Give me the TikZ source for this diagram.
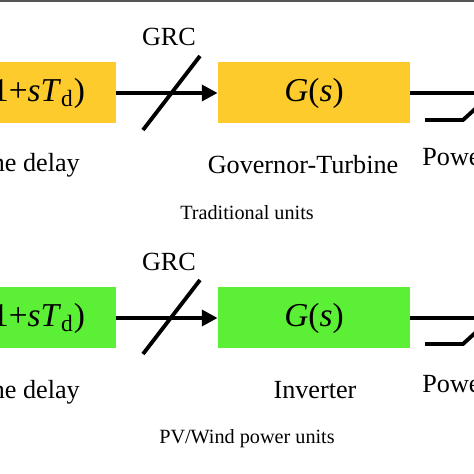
\documentclass[tikz,border=0pt]{standalone}
\usepackage{fontspec}
\setmainfont{Liberation Serif}
\usetikzlibrary{arrows.meta, positioning}
\definecolor{unitgold}{HTML}{FDCB2C}
\definecolor{unitgreen}{HTML}{5BEF35}
\definecolor{topband}{HTML}{555555}

\tikzset{
  blockbox/.style={minimum width=3.84cm, minimum height=1.22cm, inner sep=0pt,
    font=\fontsize{19}{22}\selectfont},
  lbl/.style={font=\fontsize{14.9}{17}\selectfont, inner sep=0pt},
  grouplbl/.style={font=\fontsize{11.5}{13}\selectfont, inner sep=0pt},
  sig/.style={line width=2.2pt},
}

\begin{document}
\begin{tikzpicture}[>={Triangle[length=9pt, width=9pt]}]
  \useasboundingbox (0,0) rectangle (9.48,9.48);
  \fill[topband] (0,9.44) rectangle (9.48,9.48);

  % Traditional units
  \node[blockbox, fill=unitgold] (delayA) at (0.40,7.62) {1/(1+\textit{sT}\textsubscript{d})};
  \node[blockbox, fill=unitgold] (govA) at (6.28,7.62) {\textit{G}(\textit{s})};
  \draw[sig, ->] (delayA.east) -- (govA.west);
  \draw[sig] (2.86,6.88) -- (4.00,8.36);
  \node[lbl] (grcA) at (3.38,8.74) {GRC};
  \node[lbl] (tdA) at (0.42,6.18) {Time delay};
  \node[lbl] (gtA) at (6.06,6.18) {Governor-Turbine};
  \node[grouplbl] (tradA) at (4.94,5.22) {Traditional units};
  \coordinate (outA) at (9.60,7.62);
  \draw[sig] (govA.east) -- (outA);
  \draw[sig] (8.50,7.08) -- (9.26,7.08) -- (9.60,7.39);
  \node[lbl, anchor=west] (limA) at (8.44,6.34) {Power limit};

  % PV/Wind power units
  \node[blockbox, fill=unitgreen] (delayB) at (0.40,3.12) {1/(1+\textit{sT}\textsubscript{d})};
  \node[blockbox, fill=unitgreen] (invB) at (6.28,3.12) {\textit{G}(\textit{s})};
  \draw[sig, ->] (delayB.east) -- (invB.west);
  \draw[sig] (2.86,2.40) -- (4.00,3.88);
  \node[lbl] (grcB) at (3.38,4.24) {GRC};
  \node[lbl] (tdB) at (0.42,1.64) {Time delay};
  \node[lbl] (invlB) at (6.30,1.68) {Inverter};
  \node[grouplbl] (pvB) at (4.94,0.70) {PV/Wind power units};
  \coordinate (outB) at (9.60,3.12);
  \draw[sig] (invB.east) -- (outB);
  \draw[sig] (8.50,2.60) -- (9.26,2.60) -- (9.60,2.91);
  \node[lbl, anchor=west] (limB) at (8.44,1.80) {Power limit};
\end{tikzpicture}
\end{document}
